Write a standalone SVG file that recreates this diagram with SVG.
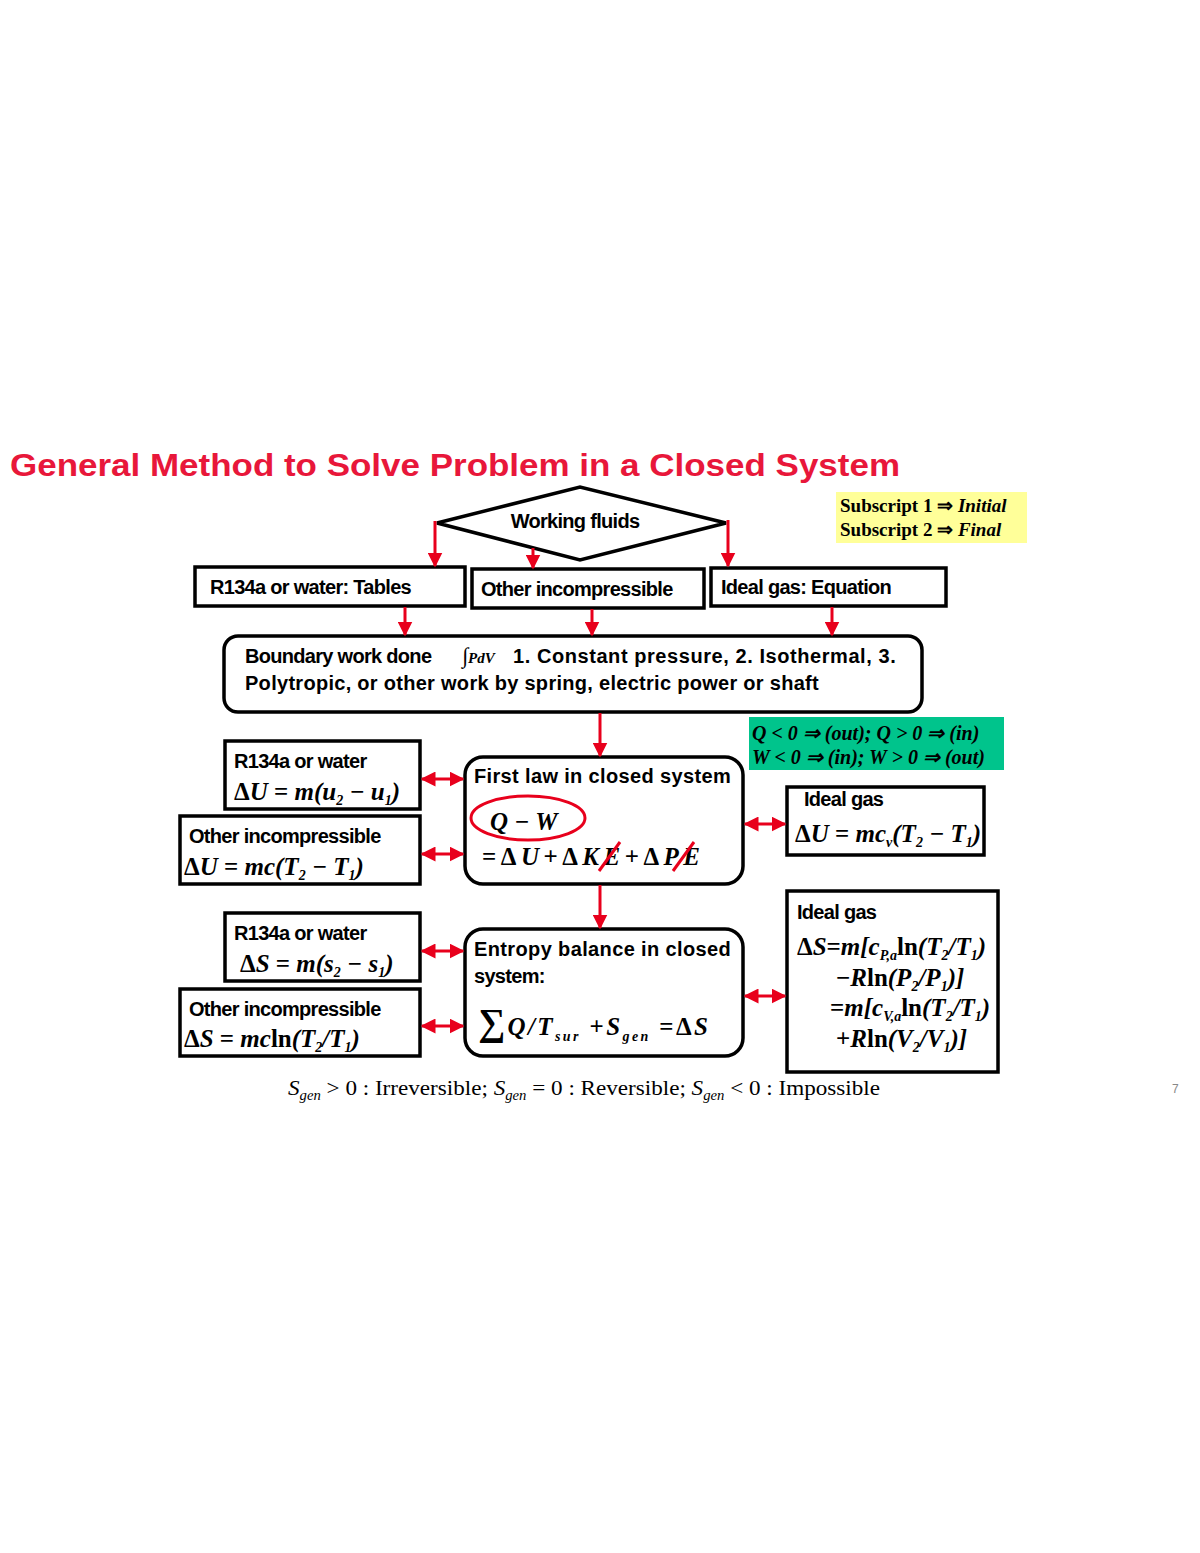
<svg xmlns="http://www.w3.org/2000/svg" width="1200" height="1553" viewBox="0 0 1200 1553">
<style>
.bx{fill:#fff;stroke:#000;stroke-width:3.5}
.t{font-family:"Liberation Sans",Arial,sans-serif;font-size:20px;font-weight:bold;fill:#000;letter-spacing:-0.7px}
.m{font-family:"Liberation Serif","Times New Roman",serif;font-size:25px;font-style:italic;font-weight:bold;fill:#000}
.r{font-style:normal}
.s{font-size:14px}
.ar{stroke:#e8001c;stroke-width:3;fill:none}
</style>
<defs>
<marker id="ah" viewBox="0 0 10 10" refX="9" refY="5" markerWidth="5" markerHeight="5" orient="auto-start-reverse" markerUnits="strokeWidth">
<path d="M0,0 L10,5 L0,10 z" fill="#e8001c"/>
</marker>
</defs>
<rect width="1200" height="1553" fill="#fff"/>
<text x="10" y="476" font-family="Liberation Sans,Arial,sans-serif" font-weight="bold" font-size="31" fill="#e8173a" textLength="890" lengthAdjust="spacingAndGlyphs">General Method to Solve Problem in a Closed System</text>

<g id="subscripts">
<rect x="836" y="492" width="191" height="51" fill="#ffff99"/>
<text x="840" y="512" font-family="Liberation Serif,serif" font-weight="bold" font-size="19">Subscript 1 ⇒ <tspan font-style="italic">Initial</tspan></text>
<text x="840" y="536" font-family="Liberation Serif,serif" font-weight="bold" font-size="19">Subscript 2 ⇒ <tspan font-style="italic">Final</tspan></text>
</g>

<g id="signs">
<rect x="749" y="717" width="255" height="53" fill="#00c48c"/>
<text x="752" y="740" font-family="Liberation Serif,serif" font-weight="bold" font-style="italic" font-size="20">Q &lt; 0 ⇒ (out); Q &gt; 0 ⇒ (in)</text>
<text x="752" y="764" font-family="Liberation Serif,serif" font-weight="bold" font-style="italic" font-size="20">W &lt; 0 ⇒ (in); W &gt; 0 ⇒ (out)</text>
</g>

<g id="working">
<polygon points="437,523 580,487 726,523 580,560" class="bx"/>
<text x="575" y="528" class="t" text-anchor="middle" font-size="21">Working fluids</text>
</g>

<g id="r134a-tables"><rect x="195" y="567" width="270" height="39" class="bx"/><text x="210" y="594" class="t">R134a or water: Tables</text></g>
<g id="incomp"><rect x="472" y="569" width="232" height="39" class="bx"/><text x="481" y="596" class="t">Other incompressible</text></g>
<g id="idealgas"><rect x="711" y="568" width="235" height="38" class="bx"/><text x="721" y="594" class="t">Ideal gas: Equation</text></g>

<g id="boundary">
<rect x="224" y="636" width="698" height="76" rx="14" class="bx"/>
<text x="245" y="663" class="t">Boundary work done</text>
<text x="462" y="663" font-family="Liberation Serif,serif" font-style="italic" font-weight="bold" font-size="15"><tspan font-size="22">∫</tspan>PdV</text>
<text x="513" y="663" class="t" textLength="382" lengthAdjust="spacing">1. Constant pressure, 2. Isothermal, 3.</text>
<text x="245" y="690" class="t" textLength="573" lengthAdjust="spacing">Polytropic, or other work by spring, electric power or shaft</text>
</g>

<g id="firstlaw">
<rect x="465" y="757" width="278" height="127" rx="18" class="bx"/>
<text x="474" y="783" class="t" textLength="256" lengthAdjust="spacing">First law in closed system</text>
<ellipse cx="528" cy="818" rx="57" ry="22" fill="none" stroke="#e8001c" stroke-width="3"/>
<text x="490" y="830" class="m" font-size="28">Q − W</text>
<text x="482" y="865" class="m" font-size="28" textLength="218" lengthAdjust="spacing"><tspan class="r">=</tspan><tspan class="r">Δ</tspan>U<tspan class="r">+Δ</tspan>KE<tspan class="r">+Δ</tspan>PE</text>
<line x1="599" y1="871" x2="620" y2="842" stroke="#e8001c" stroke-width="3"/>
<line x1="673" y1="871" x2="694" y2="842" stroke="#e8001c" stroke-width="3"/>
</g>

<g id="u-r134a"><rect x="225" y="741" width="195" height="68" class="bx"/>
<text x="234" y="768" class="t">R134a or water</text>
<text x="234" y="800" class="m"><tspan class="r">Δ</tspan>U <tspan class="r">=</tspan> m(u<tspan class="s" dy="5">2</tspan><tspan dy="-5"> − u</tspan><tspan class="s" dy="5">1</tspan><tspan dy="-5">)</tspan></text></g>
<g id="u-incomp"><rect x="180" y="816" width="240" height="68" class="bx"/>
<text x="189" y="843" class="t">Other incompressible</text>
<text x="184" y="875" class="m"><tspan class="r">Δ</tspan>U <tspan class="r">=</tspan> mc(T<tspan class="s" dy="5">2</tspan><tspan dy="-5"> − T</tspan><tspan class="s" dy="5">1</tspan><tspan dy="-5">)</tspan></text></g>
<g id="u-ideal"><rect x="787" y="787" width="197" height="68" class="bx"/>
<text x="804" y="806" class="t">Ideal gas</text>
<text x="795" y="842" class="m"><tspan class="r">Δ</tspan>U <tspan class="r">=</tspan> mc<tspan class="s" dy="5">v</tspan><tspan dy="-5">(T</tspan><tspan class="s" dy="5">2</tspan><tspan dy="-5"> − T</tspan><tspan class="s" dy="5">1</tspan><tspan dy="-5">)</tspan></text></g>

<g id="entropy">
<rect x="465" y="929" width="278" height="127" rx="18" class="bx"/>
<text x="474" y="956" class="t" textLength="256" lengthAdjust="spacing">Entropy balance in closed</text>
<text x="474" y="983" class="t">system:</text>
<text x="478" y="1035" class="m" font-size="30" textLength="230" lengthAdjust="spacing"><tspan class="r" font-size="38">∑</tspan>Q/T<tspan class="s" dy="6">sur</tspan><tspan dy="-6"> </tspan><tspan class="r">+</tspan>S<tspan class="s" dy="6">gen</tspan><tspan dy="-6"> </tspan><tspan class="r">=Δ</tspan>S</text>
</g>

<g id="s-r134a"><rect x="225" y="913" width="195" height="68" class="bx"/>
<text x="234" y="940" class="t">R134a or water</text>
<text x="240" y="972" class="m"><tspan class="r">Δ</tspan>S <tspan class="r">=</tspan> m(s<tspan class="s" dy="5">2</tspan><tspan dy="-5"> − s</tspan><tspan class="s" dy="5">1</tspan><tspan dy="-5">)</tspan></text></g>
<g id="s-incomp"><rect x="180" y="989" width="240" height="67" class="bx"/>
<text x="189" y="1016" class="t">Other incompressible</text>
<text x="184" y="1047" class="m"><tspan class="r">Δ</tspan>S <tspan class="r">=</tspan> mc<tspan class="r">ln</tspan>(T<tspan class="s" dy="5">2</tspan><tspan dy="-5">/T</tspan><tspan class="s" dy="5">1</tspan><tspan dy="-5">)</tspan></text></g>
<g id="s-ideal"><rect x="787" y="891" width="211" height="181" class="bx"/>
<text x="797" y="919" class="t">Ideal gas</text>
<text x="797" y="955" class="m" font-size="24"><tspan class="r">Δ</tspan>S<tspan class="r">=</tspan>m[c<tspan class="s" dy="5">P,a</tspan><tspan dy="-5" class="r">ln</tspan>(T<tspan class="s" dy="5">2</tspan><tspan dy="-5">/T</tspan><tspan class="s" dy="5">1</tspan><tspan dy="-5">)</tspan></text>
<text x="836" y="986" class="m" font-size="24"><tspan class="r">−</tspan>R<tspan class="r">ln</tspan>(P<tspan class="s" dy="5">2</tspan><tspan dy="-5">/P</tspan><tspan class="s" dy="5">1</tspan><tspan dy="-5">)]</tspan></text>
<text x="830" y="1016" class="m" font-size="24"><tspan class="r">=</tspan>m[c<tspan class="s" dy="5">V,a</tspan><tspan dy="-5" class="r">ln</tspan>(T<tspan class="s" dy="5">2</tspan><tspan dy="-5">/T</tspan><tspan class="s" dy="5">1</tspan><tspan dy="-5">)</tspan></text>
<text x="836" y="1047" class="m" font-size="24"><tspan class="r">+</tspan>R<tspan class="r">ln</tspan>(V<tspan class="s" dy="5">2</tspan><tspan dy="-5">/V</tspan><tspan class="s" dy="5">1</tspan><tspan dy="-5">)]</tspan></text></g>

<g id="sgen-note">
<text x="288" y="1095" font-family="Liberation Serif,serif" font-size="22" font-style="italic" textLength="592" lengthAdjust="spacingAndGlyphs">S<tspan class="s" dy="5">gen</tspan><tspan class="r" dy="-5"> &gt; 0 : Irreversible; </tspan>S<tspan class="s" dy="5">gen</tspan><tspan class="r" dy="-5"> = 0 : Reversible; </tspan>S<tspan class="s" dy="5">gen</tspan><tspan class="r" dy="-5"> &lt; 0 : Impossible</tspan></text>
</g>
<text x="1172" y="1093" font-family="Liberation Sans,sans-serif" font-size="12" fill="#888">7</text>

<g id="connectors">
<line x1="435" y1="521" x2="435" y2="566" class="ar" marker-end="url(#ah)"/>
<line x1="533" y1="548" x2="533" y2="568" class="ar" marker-end="url(#ah)"/>
<line x1="728" y1="520" x2="728" y2="566" class="ar" marker-end="url(#ah)"/>
<line x1="405" y1="607" x2="405" y2="635" class="ar" marker-end="url(#ah)"/>
<line x1="592" y1="609" x2="592" y2="635" class="ar" marker-end="url(#ah)"/>
<line x1="832" y1="607" x2="832" y2="635" class="ar" marker-end="url(#ah)"/>
<line x1="600" y1="713" x2="600" y2="756" class="ar" marker-end="url(#ah)"/>
<line x1="600" y1="885" x2="600" y2="928" class="ar" marker-end="url(#ah)"/>
<line x1="422" y1="779" x2="463" y2="779" class="ar" marker-start="url(#ah)" marker-end="url(#ah)"/>
<line x1="422" y1="854" x2="463" y2="854" class="ar" marker-start="url(#ah)" marker-end="url(#ah)"/>
<line x1="745" y1="824" x2="785" y2="824" class="ar" marker-start="url(#ah)" marker-end="url(#ah)"/>
<line x1="422" y1="951" x2="463" y2="951" class="ar" marker-start="url(#ah)" marker-end="url(#ah)"/>
<line x1="422" y1="1026" x2="463" y2="1026" class="ar" marker-start="url(#ah)" marker-end="url(#ah)"/>
<line x1="745" y1="996" x2="785" y2="996" class="ar" marker-start="url(#ah)" marker-end="url(#ah)"/>
</g>
</svg>
